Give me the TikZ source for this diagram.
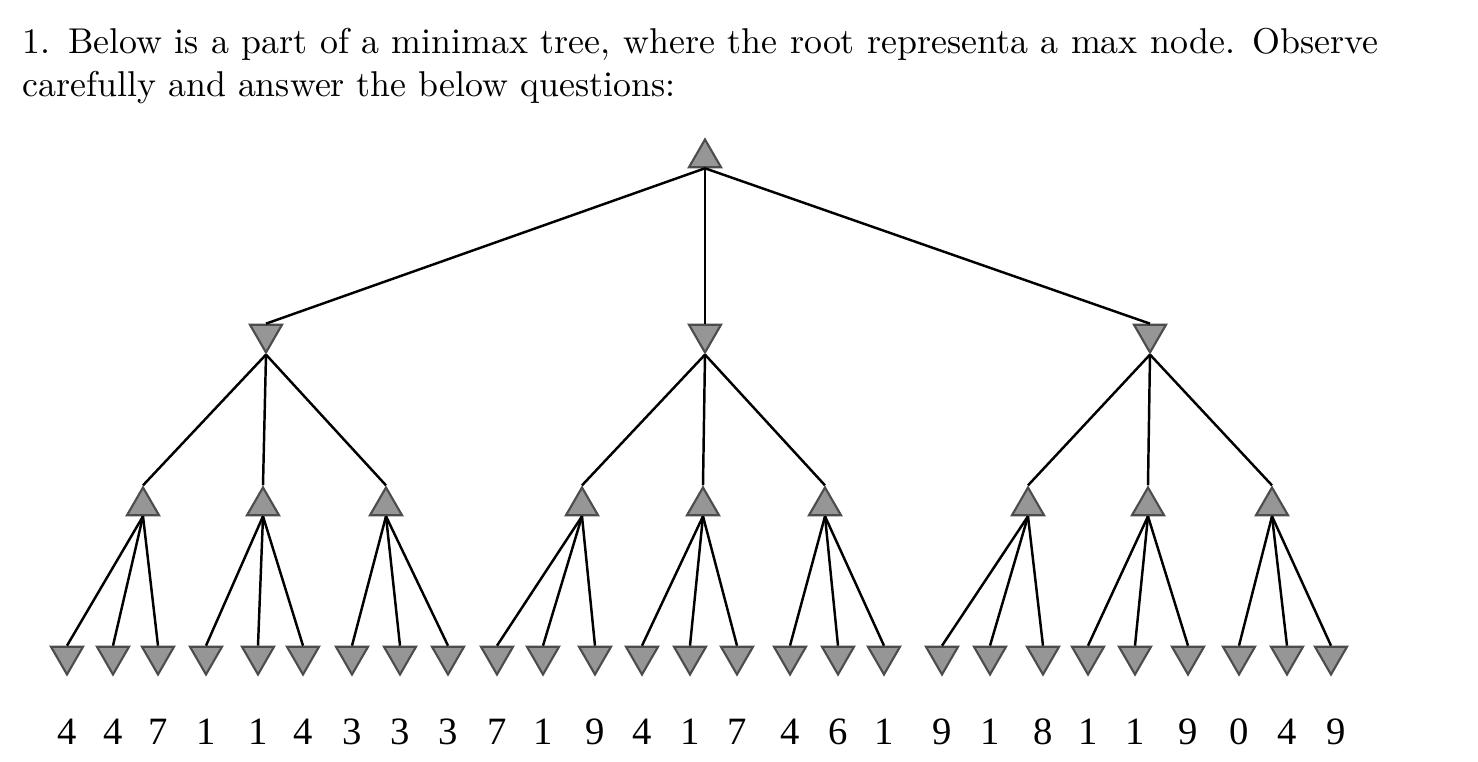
\documentclass[tikz,border=0pt]{standalone}
\usepackage{fontspec}
\newfontfamily\numfont{Liberation Serif}
\usetikzlibrary{shapes.geometric}
\definecolor{tri}{RGB}{150,150,150}
\tikzset{
 tbase/.style={regular polygon,regular polygon sides=3,minimum size=0.37cm,inner sep=0pt,fill=tri,draw=black!70,line width=0.6pt},
 utri/.style={tbase},
 dtri/.style={tbase,shape border rotate=180},
 edge/.style={draw=black,line width=0.7pt},
 num/.style={font=\numfont\fontsize{11}{11}\selectfont,inner sep=0pt}
}
\begin{document}
\begin{tikzpicture}[x=0.01cm,y=-0.01cm]
\useasboundingbox (0,0) rectangle (1478,762);
\node[anchor=north west,inner sep=0pt,font=\fontsize{10.2}{12.2}\selectfont] (title) at (22,28)
 {\parbox{13.55cm}{\makebox[13.55cm][s]{1. Below is a part of a minimax tree, where the root representa a max node. Observe}\\carefully and answer the below questions:}};
\node[utri] (r) at (705,158) {};
\foreach \n/\x in {a/266,b/705,c/1150} \node[dtri] (\n) at (\x,334) {};
\foreach \n/\x in {a1/143,a2/263,a3/386,b1/582,b2/703,b3/825,c1/1028,c2/1148,c3/1272} \node[utri] (\n) at (\x,506) {};
\foreach \n in {a,b,c} \draw[edge] (r.side 2) -- (\n.side 2);
\foreach \n in {a,b,c} \foreach \k in {1,2,3} \draw[edge] (\n.corner 1) -- (\n\k.corner 1);
\foreach \x [count=\i] in {67,113,158,206,258,303,352,400,448,497,543,595,642,690,737,790,838,884,942,990,1043,1088,1135,1188,1239,1287,1331} \node[dtri] (l\i) at (\x,656) {};
\foreach \p [count=\j] in {a1,a2,a3,b1,b2,b3,c1,c2,c3} \foreach \k in {1,2,3} {
 \pgfmathtruncatemacro\li{3*(\j-1)+\k}
 \draw[edge] (\p.side 2) -- (l\li.side 2);}
\foreach \v/\x [count=\i] in {4/67,4/113,7/158,1/206,1/258,4/303,3/352,3/400,3/448,7/497,1/543,9/595,4/642,1/690,7/737,4/790,6/838,1/884,9/942,1/990,8/1043,1/1088,1/1135,9/1188,0/1239,4/1287,9/1336}
 \node[num] (v\i) at (\x,732) {\v};
\end{tikzpicture}
\end{document}
